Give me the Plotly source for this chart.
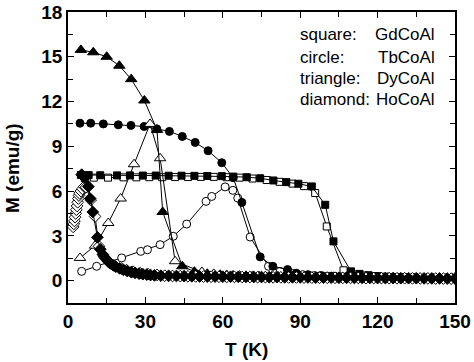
import plotly.graph_objects as go

# GdCoAl (squares)
gd_fc_T = [5, 8, 12.5, 19, 24, 29, 34, 39, 44, 49, 54, 59.6, 64.1, 69.3, 74.5, 79.6, 84.6, 89.3, 94.5, 99.7,
           102.9, 109.7, 113, 116.5, 120, 123.5, 127, 130.5, 134, 137.5, 141, 144.5, 148]
gd_fc_M = [7.08, 7.07, 7.06, 7.05, 7.05, 7.04, 7.04, 7.03, 7.03, 7.02, 7.01, 7.0, 6.97, 6.93, 6.86, 6.71, 6.6, 6.49, 6.31, 5.08,
           2.63, 0.62, 0.45, 0.36, 0.3, 0.26, 0.23, 0.21, 0.19, 0.17, 0.16, 0.15, 0.14]
gd_zfc_T = [6.5, 10, 15.5, 21.5, 26.5, 31.5, 36.5, 41.5, 46.5, 51.5, 56.5, 61.5, 66.5, 71.5, 77, 82, 87, 91.5, 95.8, 100.3,
            106.8, 111.5, 115, 118.5, 122, 125.5, 129, 132.5, 136, 139.5, 143, 146.5, 150]
gd_zfc_M = [6.88, 6.9, 6.9, 6.92, 6.92, 6.93, 6.93, 6.94, 6.94, 6.95, 6.95, 6.93, 6.9, 6.84, 6.74, 6.62, 6.5, 6.33, 5.87, 3.63,
            0.69, 0.42, 0.34, 0.29, 0.25, 0.22, 0.2, 0.18, 0.17, 0.16, 0.15, 0.14, 0.13]

# TbCoAl (circles)
tb_fc_T = [4.65, 8.8, 13.7, 19.5, 24.4, 29.5, 34.4, 39.3, 44.3, 49.3, 54.3, 59.6, 64, 67.4, 74.5, 79.4, 85.1, 88.5,
           93, 98, 103, 108, 113, 118]
tb_fc_M = [10.55, 10.55, 10.5, 10.44, 10.4, 10.33, 10.17, 10.0, 9.66, 9.26, 8.7, 7.9, 6.9, 5.24, 1.59, 0.96, 0.74, 0.5,
           0.4, 0.34, 0.3, 0.27, 0.24, 0.22]
tb_zfc_T = [5.3, 11.1, 20.8, 28.2, 30.8, 35.7, 40.8, 46.0, 53.5, 55.7, 60.9, 63.9, 65.8, 70.6, 77.7, 82.2, 87, 91,
            95.5, 100.5, 105.5, 110.5, 115.5]
tb_zfc_M = [0.62, 0.96, 1.52, 1.96, 2.07, 2.41, 2.97, 3.79, 5.31, 5.64, 6.28, 6.05, 5.53, 2.92, 0.96, 0.62, 0.48, 0.4,
            0.34, 0.3, 0.27, 0.24, 0.22]

# DyCoAl (triangles)
dy_fc_T = [5, 9.8, 15, 19.9, 24.5, 29.6, 34.5, 36.7, 44.3, 49, 54, 59, 64, 69, 74, 79, 84, 89, 94, 99,
           104, 109, 114, 119, 124, 129, 134, 139, 144, 149]
dy_fc_M = [15.46, 15.3, 15.0, 14.4, 13.5, 12.07, 10.1, 4.6, 0.96, 0.6, 0.46, 0.39, 0.35, 0.32, 0.3, 0.28, 0.27, 0.26, 0.25, 0.24,
           0.23, 0.22, 0.21, 0.2, 0.19, 0.18, 0.17, 0.17, 0.16, 0.15]
dy_zfc_T = [4.65, 10.5, 15.6, 20.4, 25.6, 31.8, 35.7, 41.5, 51.9, 56.5, 61.5, 66.5, 71.5, 76.5, 81.5, 86.5, 91.5, 96.5,
            101.5, 106.5, 111.5, 116.5, 121.5, 126.5, 131.5, 136.5, 141.5, 146.5]
dy_zfc_M = [1.52, 2.34, 3.86, 5.5, 7.8, 10.5, 8.2, 1.3, 0.58, 0.45, 0.38, 0.34, 0.31, 0.29, 0.27, 0.26, 0.25, 0.24,
            0.23, 0.22, 0.21, 0.2, 0.19, 0.18, 0.17, 0.17, 0.16, 0.15]

# HoCoAl (diamonds)
ho_fc_T = [5.3, 6.5, 7.9, 8.6, 9.6, 11.4, 12.5, 13.5, 14.5, 15.5, 16.5, 17.5, 18.5, 20, 21.5, 23, 24.5, 26, 27.5, 29,
           30.5, 32, 33.5, 36, 39, 42, 45, 48, 51, 54, 57, 60, 63, 66, 69, 72, 75, 78, 81, 84, 87, 90, 93, 96, 99,
           102, 105, 108, 111, 114, 117, 120, 123, 126, 129, 132, 135, 138, 141, 144, 147, 150]
ho_fc_M = [7.1, 6.9, 6.3, 5.5, 4.6, 2.9, 2.1, 1.75, 1.5, 1.3, 1.15, 1.03, 0.93, 0.82, 0.72, 0.64, 0.57, 0.52, 0.47, 0.43,
           0.4, 0.37, 0.35, 0.33, 0.32, 0.31, 0.3, 0.29, 0.28, 0.27, 0.27, 0.26, 0.26, 0.25, 0.25, 0.24, 0.24, 0.23, 0.23,
           0.22, 0.22, 0.21, 0.21, 0.2, 0.2, 0.2, 0.19, 0.19, 0.18, 0.18, 0.18, 0.17, 0.17, 0.17, 0.16, 0.16, 0.16,
           0.15, 0.15, 0.15, 0.14, 0.14]
ho_zfc_T = [2.0, 2.25, 2.5, 2.75, 3.0, 3.25, 3.5, 3.75, 4.0, 4.25, 4.5, 5.0, 5.6, 6.3, 7.0, 8.8, 10.5, 12, 14, 16, 18,
            20.8, 22.7, 25.2, 28, 31, 34.5, 37.5, 40.5, 43.5, 46.5, 49.5, 52.5, 55.5, 58.5, 61.5, 64.5, 67.5, 70.5,
            73.5, 76.5, 79.5, 82.5, 85.5, 88.5, 91.5, 94.5, 97.5, 100.5, 103.5, 106.5, 109.5, 112.5, 115.5, 118.5,
            121.5, 124.5, 127.5, 130.5, 133.5, 136.5, 139.5, 142.5, 145.5, 148.5]
ho_zfc_M = [3.6, 3.8, 4.0, 4.25, 4.5, 4.75, 5.0, 5.25, 5.5, 5.7, 5.85, 6.0, 6.15, 6.3, 6.27, 5.4, 4.3, 2.3, 1.6, 1.2, 1.0,
            0.8, 0.7, 0.6, 0.5, 0.44, 0.38, 0.33, 0.31, 0.3, 0.29, 0.28, 0.27, 0.26, 0.26, 0.25, 0.25, 0.24, 0.24,
            0.23, 0.23, 0.22, 0.22, 0.21, 0.21, 0.2, 0.2, 0.19, 0.19, 0.19, 0.18, 0.18, 0.18, 0.17, 0.17,
            0.17, 0.16, 0.16, 0.16, 0.15, 0.15, 0.15, 0.14, 0.14, 0.13]

legend_labels = ["square:", "circle:", "triangle:", "diamond:"]
legend_names = ["GdCoAl", "TbCoAl", "DyCoAl", "HoCoAl"]

x_ticks = [0, 30, 60, 90, 120, 150]
y_ticks = [0, 3, 6, 9, 12, 15, 18]

fig = go.Figure()


def add(T, M, symbol, filled, size):
    fig.add_trace(go.Scatter(
        x=T, y=M, mode="lines+markers",
        line=dict(color="black", width=1),
        marker=dict(symbol=symbol, size=size, color="black" if filled else "white",
                    line=dict(color="black", width=1)),
        showlegend=False, hoverinfo="skip"))


add(gd_zfc_T, gd_zfc_M, "square", False, 7)
add(gd_fc_T, gd_fc_M, "square", True, 7)
add(tb_zfc_T, tb_zfc_M, "circle", False, 8)
add(tb_fc_T, tb_fc_M, "circle", True, 8)
add(dy_zfc_T, dy_zfc_M, "triangle-up", False, 10)
add(dy_fc_T, dy_fc_M, "triangle-up", True, 10)
add(ho_zfc_T, ho_zfc_M, "diamond", False, 9)
add(ho_fc_T, ho_fc_M, "diamond", True, 9)

FONT = "Liberation Sans, Arial, Helvetica, sans-serif"

axis_common = dict(
    showline=True, linecolor="black", linewidth=1.5, mirror="allticks",
    ticks="inside", ticklen=6, tickwidth=1, tickcolor="black",
    showgrid=False, zeroline=False, automargin=False, ticklabeloverflow="allow",
    tickfont=dict(family=FONT, size=19, color="black", weight="bold"),
)

fig.update_xaxes(range=[0, 150], tickvals=x_ticks, ticktext=[str(v) for v in x_ticks],
                 minor=dict(dtick=15, tick0=0, ticks="inside", ticklen=5, tickcolor="black", showgrid=False),
                 **axis_common)
fig.update_yaxes(range=[-1.5, 18], tickvals=y_ticks, ticktext=[str(v) for v in y_ticks],
                 minor=dict(dtick=1.5, tick0=0, ticks="inside", ticklen=5, tickcolor="black", showgrid=False),
                 **axis_common)

annotations = []
row_y = [0.921, 0.845, 0.773, 0.698]
for lab, name, yy in zip(legend_labels, legend_names, row_y):
    annotations.append(dict(text=lab, xref="paper", yref="paper", x=0.594, y=yy, xanchor="left", yanchor="middle",
                            showarrow=False, font=dict(family=FONT, size=17, color="black")))
    annotations.append(dict(text=name, xref="paper", yref="paper", x=0.953, y=yy, xanchor="right", yanchor="middle",
                            showarrow=False, font=dict(family=FONT, size=17, color="black")))
annotations.append(dict(text="T (K)", xref="paper", yref="paper", x=0.462, y=-0.1615, xanchor="center",
                        yanchor="middle", showarrow=False,
                        font=dict(family=FONT, size=19, color="black", weight="bold")))
annotations.append(dict(text="M (emu/g)", xref="paper", yref="paper", x=-0.142, y=0.464, xanchor="center",
                        yanchor="middle", textangle=-90, showarrow=False,
                        font=dict(family=FONT, size=19, color="black", weight="bold")))

fig.update_layout(
    template="none",
    width=474, height=362, autosize=False,
    margin=dict(l=68, r=19, t=12, b=59, pad=0),
    paper_bgcolor="white", plot_bgcolor="white",
    annotations=annotations,
    showlegend=False,
)

fig.write_html("out.html", config={"displayModeBar": False, "responsive": False},
               post_script="document.body.style.margin='0px';document.body.style.padding='0px';")
